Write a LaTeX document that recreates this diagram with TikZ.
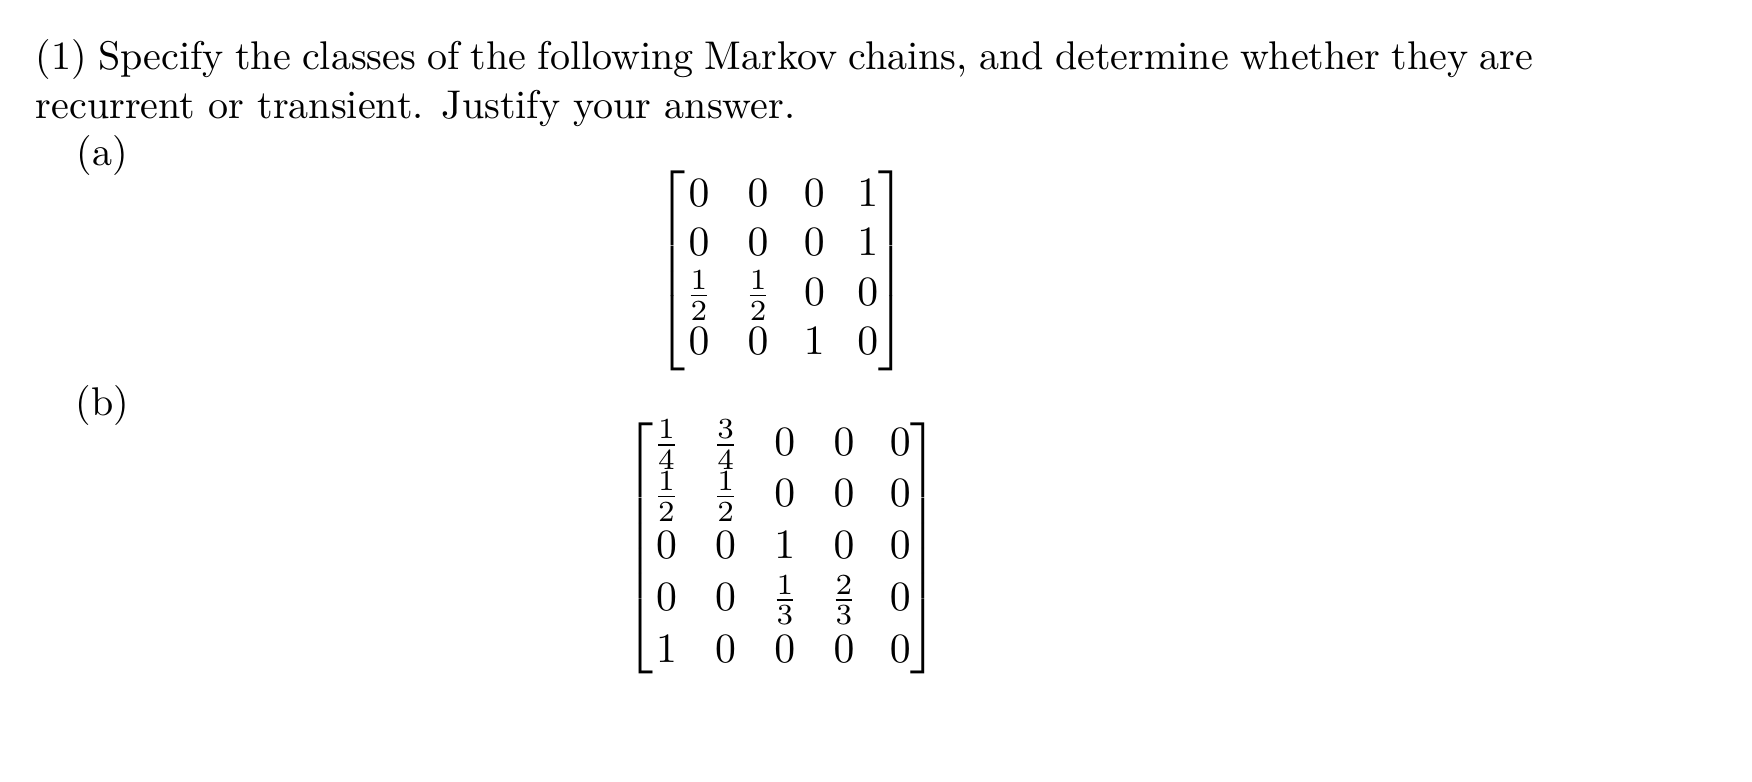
\documentclass[tikz,border=0pt]{standalone}
\usepackage{amsmath}
\begin{document}
\begin{tikzpicture}[x=1pt,y=1pt,txt/.style={inner sep=0pt,font=\fontsize{9.6}{11.9}\selectfont},
 mat/.style={inner sep=0pt,font=\fontsize{9.6}{11.5}\selectfont}]
\useasboundingbox (0,0) rectangle (420.1,-187.5);
\node[txt,anchor=north west,text width=359pt,align=justify] (q) at (8.4,-9.2)
 {(1) Specify the classes of the following Markov chains, and determine whether they are recurrent or transient. Justify your answer.};
\node[txt] (la) at (24.5,-37.4) {(a)};
\node[txt] (lb) at (24.5,-97.3) {(b)};
\node[mat] (ma) at (187.5,-65) {$\setlength\arraycolsep{3.9pt}\renewcommand\arraystretch{1.02}\begin{bmatrix}0&0&0&1\\0&0&0&1\\\tfrac12&\tfrac12&0&0\\0&0&1&0\end{bmatrix}$};
\node[mat] (mb) at (187.5,-131.5) {$\setlength\arraycolsep{3.9pt}\renewcommand\arraystretch{1.08}\begin{bmatrix}\tfrac14&\tfrac34&0&0&0\\\tfrac12&\tfrac12&0&0&0\\0&0&1&0&0\\0&0&\tfrac13&\tfrac23&0\\1&0&0&0&0\end{bmatrix}$};
\end{tikzpicture}
\end{document}
